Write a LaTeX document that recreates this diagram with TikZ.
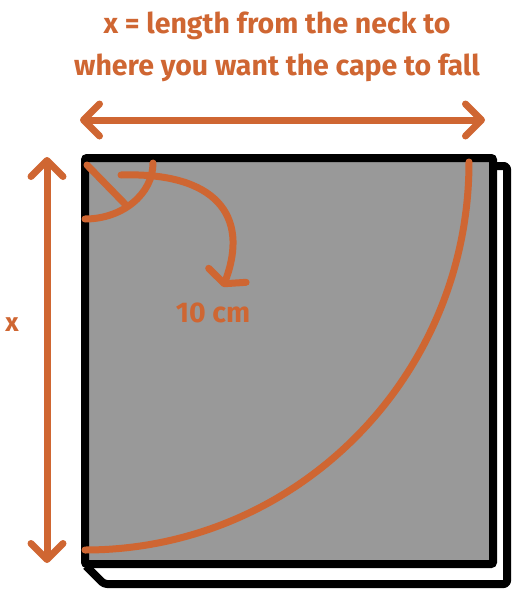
\documentclass[tikz,border=0pt]{standalone}
\usepackage{fontspec}
\setmainfont{Fira Sans}
\usetikzlibrary{arrows.meta}
\definecolor{capeorange}{HTML}{CF6632}
\definecolor{capegray}{HTML}{999999}
\tikzset{
  dimline/.style={draw=capeorange, line width=7pt, line cap=round, line join=round},
  dimarrow/.style={dimline, {Straight Barb[length=16pt,width=32pt,round]}-{Straight Barb[length=16pt,width=32pt,round]}},
  label/.style={text=capeorange, font=\bfseries, inner sep=0pt}
}
\begin{document}
\begin{tikzpicture}[x=1pt,y=-1pt]
  \useasboundingbox (0,0) rectangle (512,589);
  % fabric, two layers
  \draw[line width=8pt, rounded corners=3pt, line join=round]
    (86,566) -- (104,584) -- (507,584) -- (507,166) -- (493,166);
  \draw[fill=capegray, line width=8pt, rounded corners=2pt] (85,158) rectangle (493,564);
  % measurements
  \coordinate (hl) at (80,120);
  \coordinate (hr) at (485,120);
  \coordinate (vt) at (47,157);
  \coordinate (vb) at (47,563);
  \draw[dimarrow] (hl) -- (hr);
  \draw[dimarrow] (vt) -- (vb);
  \node[label, font=\bfseries\fontsize{28.5}{28.5}\selectfont, anchor=base] (title1) at (277,33) {x = length from the neck to};
  \node[label, font=\bfseries\fontsize{28.5}{28.5}\selectfont, anchor=base] (title2) at (277,75) {where you want the cape to fall};
  \node[label, font=\bfseries\fontsize{26}{26}\selectfont, anchor=base] (xlabel) at (12,331) {x};
  % cutting lines
  \draw[dimline] (469,162) arc[start angle=0, end angle=90, x radius=384, y radius=388];
  \draw[dimline] (153,163) arc[start angle=0, end angle=90, x radius=68, y radius=56];
  \coordinate (neck) at (87,165);
  \coordinate (rim) at (125,204);
  \draw[dimline] (neck) -- (rim);
  \coordinate (cs) at (121,175);
  \coordinate (ce) at (223,287);
  \draw[dimline, -{Straight Barb[length=9pt,width=40pt,round]}] (cs) .. controls (215,172) and (250,215) .. (ce);
  \node[label, font=\bfseries\fontsize{28.5}{28.5}\selectfont, anchor=base] (ten) at (213,322) {10 cm};
\end{tikzpicture}
\end{document}
